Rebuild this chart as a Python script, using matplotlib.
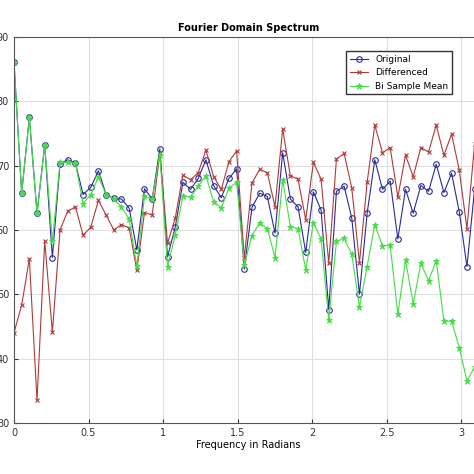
import matplotlib

matplotlib.use("Agg")

import matplotlib.pyplot as plt
import numpy as np

freq = np.linspace(0, np.pi, 62)[:61]

original = [86.1, 65.7, 77.5, 62.6, 73.2, 55.7, 70.3, 70.9, 70.4, 65.5,
            66.6, 69.2, 65.5, 64.9, 64.8, 63.4, 56.9, 66.4, 64.8, 72.6,
            55.8, 60.4, 67.4, 66.3, 68.0, 70.9, 66.9, 65.0, 68.0, 69.5,
            53.9, 63.5, 65.7, 65.2, 59.5, 72.0, 64.8, 63.6, 56.5, 65.9,
            63.1, 47.6, 66.0, 66.8, 61.8, 50.0, 62.6, 70.9, 66.3, 67.6,
            58.6, 66.3, 62.6, 66.9, 66.0, 70.2, 65.8, 68.8, 62.8, 54.3,
            66.4]
differenced = [44.0, 48.3, 55.5, 33.5, 58.3, 44.1, 60.0, 62.9, 63.6, 59.2,
               60.4, 64.6, 62.3, 60.0, 60.8, 60.3, 53.7, 62.7, 62.3, 71.9,
               57.9, 61.8, 68.5, 67.8, 68.9, 72.4, 68.3, 66.3, 70.6, 72.3,
               55.6, 67.3, 69.4, 68.9, 63.6, 75.7, 68.4, 67.9, 61.6, 70.5,
               67.9, 54.8, 71.0, 71.9, 66.5, 54.9, 67.4, 76.3, 72.0, 72.8,
               65.1, 71.6, 68.3, 72.8, 72.1, 76.3, 71.6, 74.9, 69.3, 60.2,
               73.4]
bi_sample_mean = [86.1, 65.7, 77.5, 62.6, 73.2, 58.2, 70.5, 70.5, 70.4, 64.1,
                  65.5, 68.2, 65.5, 64.8, 63.6, 61.7, 54.4, 65.2, 64.8, 71.7,
                  54.3, 59.2, 65.2, 65.1, 66.8, 68.4, 64.4, 63.4, 66.5, 67.4,
                  54.6, 59.1, 61.1, 60.2, 55.7, 67.8, 60.5, 60.2, 53.8, 61.1,
                  58.6, 46.0, 58.2, 58.7, 56.2, 48.0, 54.3, 60.8, 57.5, 57.6,
                  46.9, 55.3, 48.5, 54.8, 52.1, 55.2, 45.8, 45.8, 41.7, 36.5,
                  38.7]

fig = plt.figure(figsize=(4.74, 4.74), dpi=100)
ax = fig.add_axes([0.0295, 0.108, 0.988, 0.814])

ax.plot(freq, original, color="#2b2b9a", marker="o", markersize=4,
        markerfacecolor="none", markeredgewidth=0.8, linewidth=0.8,
        label="Original")
ax.plot(freq, differenced, color="#b03a3a", marker="x", markersize=3.5,
        markeredgewidth=0.8, linewidth=0.8, label="Differenced")
ax.plot(freq, bi_sample_mean, color="#44dd44", marker="*", markersize=4.5,
        markeredgewidth=0.6, linewidth=0.8, label="Bi Sample Mean")

ax.set_xlim(0, np.pi)
ax.set_ylim(30, 90)
ax.set_xticks([0, 0.5, 1, 1.5, 2, 2.5, 3])
ax.set_xticklabels(["0", "0.5", "1", "1.5", "2", "2.5", "3"])
ax.set_yticks(range(30, 91, 10))
ax.tick_params(labelsize=7, direction="in", length=3, colors="#333333")
ax.grid(color="#dddddd", linewidth=0.7)
ax.set_axisbelow(True)
ax.set_title("Fourier Domain Spectrum", fontsize=7, fontweight="bold", pad=4)
ax.set_xlabel("Frequency in Radians", fontsize=7, labelpad=2)
ax.legend(loc="upper right", bbox_to_anchor=(0.945, 0.975), fontsize=6.5,
          fancybox=False, edgecolor="#333333", framealpha=1)
for s in ax.spines.values():
    s.set_color("#555555")

fig.savefig("out.png", dpi=100)
